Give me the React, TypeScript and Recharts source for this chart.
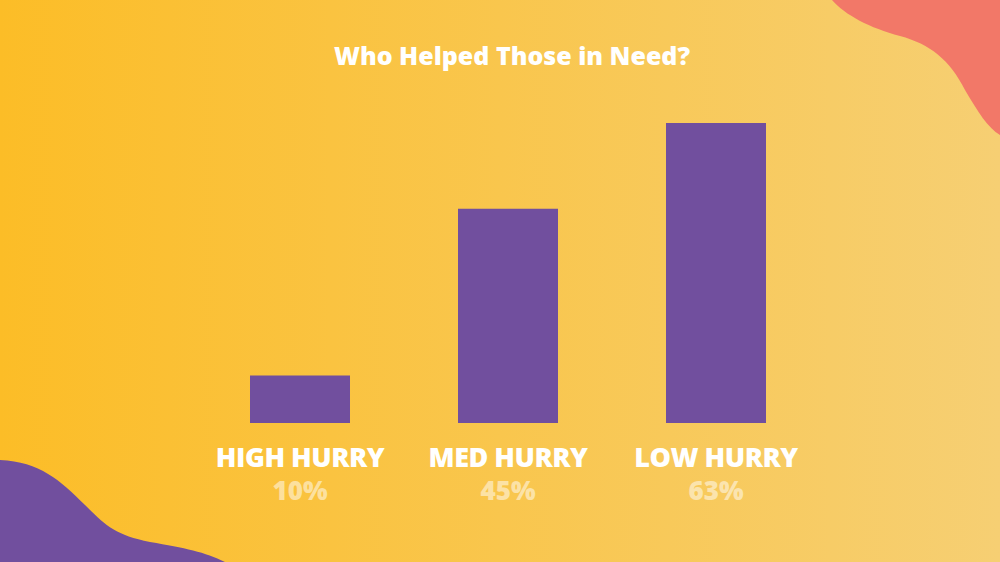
import React from 'react';
import { BarChart, Bar, XAxis, YAxis } from 'recharts';

const categories = ['HIGH HURRY', 'MED HURRY', 'LOW HURRY'];
const helpedPct = [10, 45, 63];

const data = categories.map((name, i) => ({ name, helped: helpedPct[i] }));

const FONT = '"Open Sans", Lato, sans-serif';

const HurryTick = (props: any) => {
    const { x, y, payload, index } = props;
    const pct = helpedPct[index];
    return (
        <g>
            <text x={x} y={y + 36} textAnchor="middle" fill="#ffffff" fontFamily={FONT} fontWeight={800} fontSize={27} letterSpacing={-0.5}>
                {payload.value}
            </text>
            <text x={x} y={y + 69} textAnchor="middle" fill="#ffffff" fillOpacity={0.5} fontFamily={FONT} fontWeight={800} fontSize={26}>
                {pct}%
            </text>
        </g>
    );
};

const App: React.FC = () => {
    return (
        <div style={{ position: 'fixed', top: 0, left: 0, width: 1000, height: 562, overflow: 'hidden' }}>
            <svg width={1000} height={562} style={{ position: 'absolute', top: 0, left: 0 }}>
                <defs>
                    <linearGradient id="bg" x1="0" y1="0" x2="1" y2="0">
                        <stop offset="0%" stopColor="#FCBD27" />
                        <stop offset="100%" stopColor="#F6CF73" />
                    </linearGradient>
                </defs>
                <rect x={0} y={0} width={1000} height={562} fill="url(#bg)" />
                {/* corner blobs */}
                <path d="M832,0 C845,15 870,28 900,36 C930,44 950,60 965,90 C978,112 988,128 1000,135 L1000,0 Z" fill="#F27868" />
                <path d="M0,460 C40,462 60,480 85,505 C105,525 115,535 150,542 C185,548 205,552 225,562 L0,562 Z" fill="#714F9E" />
                <text x={512} y={65} textAnchor="middle" fill="#ffffff" fontFamily={FONT} fontWeight={800} fontSize={25}>
                    Who Helped Those in Need?
                </text>
            </svg>
            <div style={{ position: 'absolute', top: 0, left: 0 }}>
                <BarChart width={1000} height={562} data={data} margin={{ top: 123, right: 180, bottom: 0, left: 196 }}>
                    <XAxis dataKey="name" height={139} axisLine={false} tickLine={false} tick={<HurryTick />} interval={0} />
                    <YAxis hide domain={[0, 63]} />
                    <Bar dataKey="helped" fill="#714F9E" barSize={100} isAnimationActive={false} />
                </BarChart>
            </div>
        </div>
    );
};

export default App;
